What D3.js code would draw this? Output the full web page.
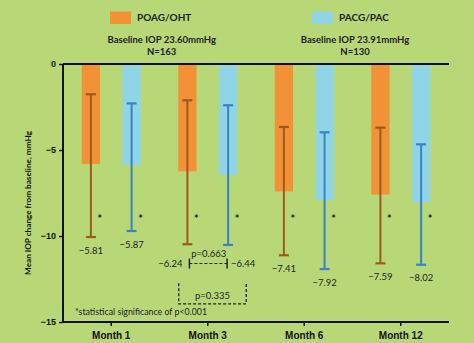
<!DOCTYPE html>
<html><head><meta charset="utf-8">
<script src="https://cdn.jsdelivr.net/npm/d3@7/dist/d3.min.js"></script>
<style>body{margin:0;background:#b8d878;}svg{display:block;font-family:Lato,"Open Sans",sans-serif;}</style>
</head><body><svg id="c" width="474" height="343"></svg>
<script>
const categories = ["Month 1","Month 3","Month 6","Month 12"];
const seriesNames = ["POAG/OHT","PACG/PAC"];
const poagMean = [-5.81,-6.24,-7.41,-7.59];
const poagUpper = [-1.76,-2.11,-3.66,-3.70];
const poagLower = [-10.06,-10.48,-11.12,-11.59];
const pacgMean = [-5.87,-6.44,-7.92,-8.02];
const pacgUpper = [-2.29,-2.40,-3.97,-4.67];
const pacgLower = [-9.71,-10.52,-11.92,-11.67];
const yTicks = [0,-5,-10,-15];
const headers = [["Baseline IOP 23.60mmHg","N=163"],["Baseline IOP 23.91mmHg","N=130"]];

const svg = d3.select("#c");
const colors = {bar:["#f39137","#8fd5e6"], err:["#9e5a1c","#3b82c4"]};
const x = d3.scaleBand().domain(categories).range([63,449]);
const xs = d3.scaleBand().domain(seriesNames).range([-29.5,29.5]).paddingInner(0.55);
const y = d3.scaleLinear().domain([0,-15]).range([64,322]);

const data = [];
categories.forEach((c,i)=>{
  data.push({c, s:0, mean:poagMean[i], up:poagUpper[i], lo:poagLower[i]});
  data.push({c, s:1, mean:pacgMean[i], up:pacgUpper[i], lo:pacgLower[i]});
});
const cx = d => x(d.c)+x.bandwidth()/2 + xs(seriesNames[d.s]) + xs.bandwidth()/2;

// bars
svg.selectAll("rect.bar").data(data).join("rect")
  .attr("x", d=>cx(d)-xs.bandwidth()/2).attr("width", xs.bandwidth())
  .attr("y", y(0)).attr("height", d=>y(d.mean)-y(0))
  .attr("fill", d=>colors.bar[d.s]);

// error bars
const eg = svg.append("g");
data.forEach(d=>{
  const col = colors.err[d.s], X = cx(d);
  eg.append("line").attr("x1",X).attr("x2",X).attr("y1",y(d.up)).attr("y2",y(d.lo)).attr("stroke",col).attr("stroke-width",2);
  [d.up,d.lo].forEach(v=>eg.append("line").attr("x1",X-5).attr("x2",X+5).attr("y1",y(v)).attr("y2",y(v)).attr("stroke",col).attr("stroke-width",2.2));
  eg.append("text").attr("x",X+9).attr("y",y(-8.95)+5).attr("text-anchor","middle").attr("font-size",11).attr("font-weight","bold").attr("fill","#222").text("*");
  const isM3 = d.c==="Month 3";
  const lx = isM3 ? (d.s===0 ? X-17 : X+15) : X;
  const ly = isM3 ? y(-11.6) : y(d.lo)+13;
  eg.append("text").attr("x",lx).attr("y",ly+3.5).attr("text-anchor","middle").attr("font-size",9.5).attr("fill","#222").text("\u2212"+Math.abs(d.mean).toFixed(2));
});

// axes
const yAxis = svg.append("g").attr("transform","translate(63,0)")
  .call(d3.axisLeft(y).tickValues(yTicks).tickSize(4).tickFormat(v=>v===0?"0":"\u2212"+Math.abs(v)));
yAxis.select(".domain").attr("stroke","#111").attr("stroke-width",2).attr("d","M0,64V322");
yAxis.selectAll("text").attr("font-size",9).attr("font-weight","bold").attr("fill","#111");
yAxis.selectAll(".tick line").attr("stroke","#111").attr("stroke-width",1.5);

const xAxis = svg.append("g").attr("transform","translate(0,322)")
  .call(d3.axisBottom(x).tickSize(4).tickPadding(6));
xAxis.select(".domain").attr("stroke","#111").attr("stroke-width",2).attr("d","M63,0H449");
xAxis.selectAll("text").attr("font-size",10).attr("font-weight","bold").attr("fill","#111");
xAxis.selectAll(".tick line").attr("stroke","#111").attr("stroke-width",1.5);

svg.append("line").attr("x1",63).attr("x2",449).attr("y1",y(0)).attr("y2",y(0)).attr("stroke","#111").attr("stroke-width",2);

// p-value brackets
const m3o = cx(data[2]), m3b = cx(data[3]);
const b1y = y(-11.6);
svg.append("line").attr("x1",m3o+2).attr("x2",m3b-1).attr("y1",b1y).attr("y2",b1y).attr("stroke","#222").attr("stroke-width",1).attr("stroke-dasharray","3,2");
[m3o+2,m3b-1].forEach(X=>svg.append("line").attr("x1",X).attr("x2",X).attr("y1",b1y-5).attr("y2",b1y+5).attr("stroke","#222").attr("stroke-width",1.5));
svg.append("text").attr("x",(m3o+m3b)/2+1).attr("y",b1y-7).attr("text-anchor","middle").attr("font-size",9.5).attr("fill","#222").text("p=0.663");
const bx1 = x("Month 3")+x.bandwidth()/2-29, bx2 = x("Month 3")+x.bandwidth()/2+38.5;
const by1 = y(-12.75), by2 = y(-13.95);
svg.append("path").attr("d",`M${bx1},${by1}V${by2}H${bx2}V${by1}`).attr("fill","none").attr("stroke","#222").attr("stroke-width",1.3).attr("stroke-dasharray","3,2");
svg.append("text").attr("x",(bx1+bx2)/2).attr("y",by2-5).attr("text-anchor","middle").attr("font-size",9.5).attr("fill","#222").text("p=0.335");

svg.append("text").attr("x",75).attr("y",315).attr("font-size",8.8).attr("fill","#222").text("*statistical significance of p<0.001");

// y label
svg.append("text").attr("transform","translate(31,203) rotate(-90)").attr("text-anchor","middle")
  .attr("font-size",8.2).attr("font-weight","bold").attr("fill","#111").text("Mean IOP change from baseline, mmHg");

// legend
const legX = [110,312];
seriesNames.forEach((n,i)=>{
  svg.append("rect").attr("x",legX[i]).attr("y",11.5).attr("width",21).attr("height",12.5).attr("fill",colors.bar[i]);
  svg.append("text").attr("x",legX[i]+27).attr("y",21).attr("font-size",10).attr("font-weight","bold").attr("fill","#222").text(n);
});

// headers
const hx = [161.7,355];
headers.forEach((h,i)=>{
  h.forEach((t,j)=>svg.append("text").attr("x",hx[i]).attr("y",43+j*12).attr("text-anchor","middle")
    .attr("font-size",9.5).attr("font-weight","bold").attr("fill","#222").text(t));
});
</script></body></html>
